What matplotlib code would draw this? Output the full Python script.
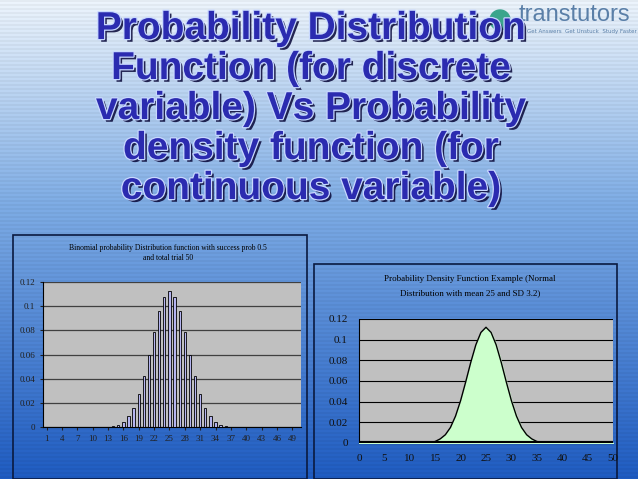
import matplotlib
matplotlib.use("Agg")
import matplotlib.pyplot as plt
import matplotlib.patheffects as pe
import numpy as np

# ── Data ──────────────────────────────────────────────────────────────────────
trials = list(range(1, 51))
binom_prob = [0.0] * 11 + [0.0001, 0.0003, 0.0008, 0.0020, 0.0044, 0.0087,
              0.0160, 0.0270, 0.0419, 0.0598, 0.0788, 0.0960, 0.1080,
              0.1123, 0.1080, 0.0960, 0.0788, 0.0598, 0.0419, 0.0270,
              0.0160, 0.0087, 0.0044, 0.0020, 0.0008, 0.0003, 0.0001] + [0.0] * 12
binom_ticks = list(range(1, 50, 3))

norm_x = list(range(0, 51))
norm_y = [0.0] * 15 + [0.0015, 0.004, 0.008, 0.015, 0.026, 0.041, 0.059, 0.078,
          0.095, 0.107, 0.112, 0.107, 0.095, 0.078, 0.059, 0.041, 0.026,
          0.015, 0.008, 0.004, 0.0015] + [0.0] * 15
norm_ticks = list(range(0, 51, 5))

title_lines = ["Probability Distribution", "Function (for discrete",
               "variable) Vs Probability", "density function (for",
               "continuous variable)"]

W, H = 638, 479
fig = plt.figure(figsize=(W / 100, H / 100), dpi=100)


def rect(x0, y0, x1, y1):
    # pixel box (top-left origin) -> figure fraction
    return [x0 / W, 1 - y1 / H, (x1 - x0) / W, (y1 - y0) / H]


# slide background: vertical gradient with faint stripes
bg = fig.add_axes([0, 0, 1, 1])
t = np.linspace(0, 1, H)
top = np.array([0.93, 0.96, 0.99])
mid = np.array([0.50, 0.68, 0.90])
bot = np.array([0.12, 0.36, 0.76])
cols = np.where(t[:, None] < 0.42,
                top + (mid - top) * (t[:, None] / 0.42),
                mid + (bot - mid) * ((t[:, None] - 0.42) / 0.58))
stripe = 1 - 0.04 * (np.arange(H) % 4 < 2)[:, None]
img = np.repeat((cols * stripe)[:, None, :], W, axis=1).clip(0, 1)
bg.imshow(img, aspect="auto", extent=[0, W, H, 0])
bg.set_xlim(0, W)
bg.set_ylim(H, 0)
bg.axis("off")

# logo
bg.text(574, 15, "transtutors", fontsize=17, color="#5a7fa8", ha="center",
        va="center", family="Liberation Sans", zorder=1)
bg.text(582, 31, "Get Answers  Get Unstuck  Study Faster", fontsize=4,
        color="#5a7fa8", ha="center", va="center", zorder=1)
bg.add_patch(plt.Circle((500, 20), 10, color="#3aa58c", zorder=1))

# slide title
for i, line in enumerate(title_lines):
    bg.text(311, 29 + i * 40, line, fontsize=28, fontweight="bold",
            family="Liberation Sans", color="#2b2bb0", ha="center", va="center",
            zorder=5,
            path_effects=[pe.withSimplePatchShadow(offset=(2, -2), shadow_rgbFace="#101040", alpha=0.9),
                          pe.withStroke(linewidth=1.8, foreground="#c8d8ff")])

# chart frames
for x0, y0, x1, y1 in [(13, 235, 307, 479), (314, 264, 617, 479)]:
    bg.add_patch(plt.Rectangle((x0, y0), x1 - x0, y1 - y0, fill=False,
                               edgecolor="#0a1a40", linewidth=1.2))

serif = "Liberation Serif"

# ── left: binomial pmf ────────────────────────────────────────────────────────
ax1 = fig.add_axes(rect(43, 282, 301, 427))
ax1.set_facecolor("#c0c0c0")
ax1.bar(trials, binom_prob, width=0.45, color="#b4b4f0", edgecolor="black",
        linewidth=0.6, zorder=3)
ax1.set_xlim(0.3, 50.7)
ax1.set_ylim(0, 0.12)
ax1.set_yticks(np.arange(0, 0.121, 0.02))
ax1.set_yticklabels(["0", "0.02", "0.04", "0.06", "0.08", "0.1", "0.12"])
ax1.set_xticks(binom_ticks)
ax1.grid(axis="y", color="#404040", linewidth=0.9, zorder=0)
for s in ["top", "right"]:
    ax1.spines[s].set_visible(False)
ax1.tick_params(labelsize=6.5, length=2, colors="#202020")
for lbl in ax1.get_xticklabels() + ax1.get_yticklabels():
    lbl.set_family(serif)
fig.text(168 / W, 1 - 248 / H, "Binomial probability Distribution function with success prob 0.5",
         ha="center", va="center", fontsize=5.5, family=serif)
fig.text(168 / W, 1 - 258 / H, "and total trial 50",
         ha="center", va="center", fontsize=5.5, family=serif)

# ── right: normal pdf ─────────────────────────────────────────────────────────
ax2 = fig.add_axes(rect(359, 319, 613, 443))
ax2.set_facecolor("#c0c0c0")
ax2.fill_between(norm_x, norm_y, color="#ccffcc", zorder=3)
ax2.plot(norm_x, norm_y, color="black", linewidth=1.0, zorder=4)
ax2.axhline(0, color="black", linewidth=3, zorder=5)
ax2.set_xlim(0, 50)
ax2.set_ylim(0, 0.12)
ax2.set_yticks(np.arange(0, 0.121, 0.02))
ax2.set_yticklabels(["0", "0.02", "0.04", "0.06", "0.08", "0.1", "0.12"])
ax2.set_xticks(norm_ticks)
ax2.grid(axis="y", color="black", linewidth=0.8, zorder=0)
for s in ["top", "right"]:
    ax2.spines[s].set_visible(False)
ax2.tick_params(labelsize=8, length=0, pad=8, colors="#101010")
for lbl in ax2.get_xticklabels() + ax2.get_yticklabels():
    lbl.set_family(serif)
fig.text(470 / W, 1 - 279 / H, "Probability Density Function Example (Normal",
         ha="center", va="center", fontsize=6.5, family=serif)
fig.text(470 / W, 1 - 293 / H, "Distribution with mean 25 and SD 3.2)",
         ha="center", va="center", fontsize=6.5, family=serif)

fig.savefig("out.png", dpi=100)
